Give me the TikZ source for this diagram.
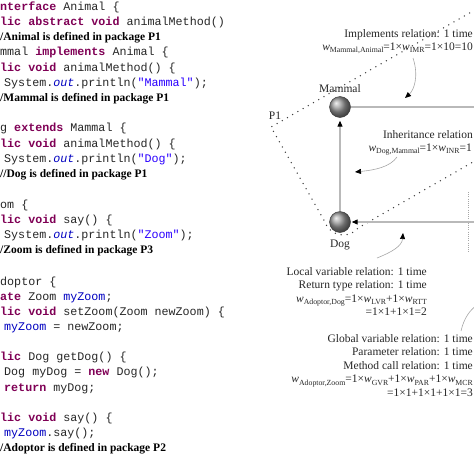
\documentclass[tikz,border=0pt]{standalone}
\usepackage{fontspec}
\setmainfont{Liberation Serif}
\setmonofont{Liberation Mono}
\usetikzlibrary{arrows.meta}
\definecolor{javakw}{HTML}{7F0055}
\definecolor{javafield}{HTML}{0000C0}
\definecolor{javastr}{HTML}{2A00FF}
\newcommand{\kw}[1]{\textcolor{javakw}{\textbf{#1}}}
\newcommand{\fd}[1]{\textcolor{javafield}{#1}}
\newcommand{\jstr}[1]{\textcolor{javastr}{#1}}
\newcommand{\wt}[1]{\textit{w}\raisebox{-2.2pt}{\fontsize{7.8}{8}\selectfont #1}}
\tikzset{
  code/.style={anchor=base west, inner sep=0pt, text=black!85, font=\fontsize{11.7}{14}\ttfamily},
  comment/.style={anchor=base west, inner sep=0pt, text=black, font=\fontsize{11.5}{14}\selectfont\bfseries},
  lbl/.style={inner sep=0pt, text=black!85, font=\fontsize{11.5}{13.6}\selectfont},
  ball/.style={circle, inner sep=0pt, minimum size=21pt, shade, ball color=gray!80, draw=black!80, line width=0.4pt},
  rel/.style={draw=gray!55, line width=1.1pt},
  note/.style={draw=gray!70, line width=0.6pt},
  hd/.style={-{Triangle[length=6pt,width=5pt,color=black]}},
  pkg/.style={draw=black!75, line width=1.5pt, line cap=round, dash pattern=on 0pt off 6pt},
  pkgfine/.style={draw=gray!70, line width=0.6pt, dash pattern=on 0.6pt off 1.6pt}
}
\begin{document}
\begin{tikzpicture}[x=1pt, y=-1pt]
  \useasboundingbox (0,0) rectangle (474,474);
  \clip (0,0) rectangle (474,474);
  % Java source
  \node[code] (c0) at (0,10) {\kw{nterface} Animal \{};
  \node[code] (c1) at (0,25.2) {\kw{lic abstract void} animalMethod()};
  \node[comment] (c2) at (0,40.5) {/Animal is defined in package P1};
  \node[code] (c3) at (0,55.7) {mmal \kw{implements} Animal \{};
  \node[code] (c4) at (0,71) {\kw{lic void} animalMethod() \{};
  \node[code] (c5) at (4,86.2) {System.\fd{\textit{out}}.println(\jstr{"Mammal"});};
  \node[comment] (c6) at (0,101.4) {/Mammal is defined in package P1};
  \node[code] (c8) at (0,131.9) {g \kw{extends} Mammal \{};
  \node[code] (c9) at (0,147.2) {\kw{lic void} animalMethod() \{};
  \node[code] (c10) at (4,162.4) {System.\fd{\textit{out}}.println(\jstr{"Dog"});};
  \node[comment] (c11) at (0,177.6) {//Dog is defined in package P1};
  \node[code] (c13) at (0,208.1) {om \{};
  \node[code] (c14) at (0,223.4) {\kw{lic void} say() \{};
  \node[code] (c15) at (4,238.6) {System.\fd{\textit{out}}.println(\jstr{"Zoom"});};
  \node[comment] (c16) at (0,253.8) {/Zoom is defined in package P3};
  \node[code] (c18) at (0,285) {doptor \{};
  \node[code] (c19) at (0,300.2) {\kw{ate} Zoom \fd{myZoom};};
  \node[code] (c20) at (0,315.4) {\kw{lic void} setZoom(Zoom newZoom) \{};
  \node[code] (c21) at (4,330.6) {\fd{myZoom} = newZoom;};
  \node[code] (c23) at (0,360.5) {\kw{lic} Dog getDog() \{};
  \node[code] (c24) at (4,375.8) {Dog myDog = \kw{new} Dog();};
  \node[code] (c25) at (4,391) {\kw{return} myDog;};
  \node[code] (c27) at (0,421.5) {\kw{lic void} say() \{};
  \node[code] (c28) at (4,436.7) {\fd{myZoom}.say();};
  \node[comment] (c29) at (0,451.9) {/Adoptor is defined in package P2};
  % dependency graph
  \draw[pkg] (480,7) -- (271,127) -- (325,222) .. controls (330,237) and (350,239) .. (358,228) -- (480,158);
  \draw[pkgfine] (468,192) -- (468,252);
  \node[lbl] (p1) at (275,116) {P1};
  \node[ball] (mammal) at (340,107) {};
  \node[ball] (dog) at (340,222) {};
  \node[lbl, anchor=base] (mammallbl) at (340,92) {Mammal};
  \node[lbl, anchor=base] (doglbl) at (340,247) {Dog};
  \coordinate (animal) at (520,107);
  \coordinate (adoptor) at (520,222);
  \draw[rel] (mammal) -- (animal);
  \draw[rel, hd, shorten >=3pt] (dog) -- (mammal);
  \draw[rel, hd, shorten >=1pt] (adoptor) -- (dog);
  % relation notes
  \node[lbl, anchor=base east] (imptext) at (473,37) {Implements relation: 1 time};
  \node[lbl, anchor=base east] (impw) at (473,50) {\wt{Mammal,Animal}=1×\wt{IMR}=1×10=10};
  \node[lbl, anchor=base east] (inhtext) at (473,138) {Inheritance relation};
  \node[lbl, anchor=base east] (inhw) at (472,151) {\wt{Dog,Mammal}=1×\wt{INR}=1};
  \node[lbl, align=right, anchor=north east] (dogtext) at (427,267) {Local variable relation: 1 time\\Return type relation: 1 time\\\wt{Adoptor,Dog}=1×\wt{LVR}+1×\wt{RTT}\\=1×1+1×1=2};
  \node[lbl, align=right, anchor=north east] (zoomtext) at (473,334) {Global variable relation: 1 time\\Parameter relation: 1 time\\Method call relation: 1 time\\\wt{Adoptor,Zoom}=1×\wt{GVR}+1×\wt{PAR}+1×\wt{MCR}\\=1×1+1×1+1×1=3};
  \coordinate (impa) at (413,58);
  \coordinate (impb) at (405,98);
  \coordinate (inha) at (397,157);
  \coordinate (inhb) at (355,172);
  \coordinate (doga) at (377,258);
  \coordinate (dogb) at (403,233);
  \coordinate (zooma) at (461,331);
  \coordinate (zoomb) at (480,303);
  \draw[note, hd] (impa) .. controls (419,76) and (414,90) .. (impb);
  \draw[note, hd] (inha) .. controls (390,167) and (375,170) .. (inhb);
  \draw[note, hd] (doga) .. controls (392,252) and (402,246) .. (dogb);
  \draw[note] (zooma) .. controls (464,318) and (470,309) .. (zoomb);
\end{tikzpicture}
\end{document}
